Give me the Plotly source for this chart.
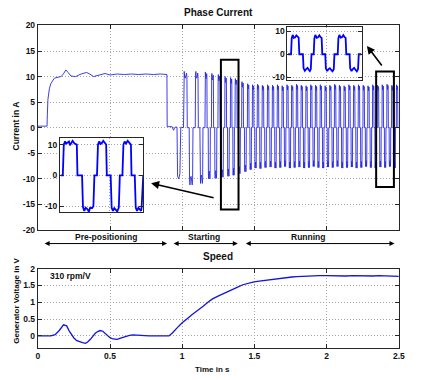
import plotly.graph_objects as go

# ---------------- data ----------------
# Phase current: pre-positioning phase and idle before start (time s, current A)
pre_t = [0, 0.064, 0.066, 0.07, 0.08, 0.09, 0.115, 0.14, 0.16, 0.175, 0.194, 0.21, 0.23, 0.262,
         0.3, 0.337, 0.36, 0.386, 0.42, 0.466, 0.5, 0.55, 0.6, 0.65, 0.7, 0.75, 0.8, 0.85, 0.894,
         0.896, 0.93, 0.94, 0.95, 0.964, 0.968, 0.976, 0.984, 0.988, 0.99]
pre_i = [0.3, 0.3, 2.5, 5.5, 7.6, 8.6, 9.7, 9.9, 10.0, 10.4, 11.3, 10.8, 10.1, 10.0,
         10.5, 10.8, 10.5, 10.0, 10.3, 10.6, 10.3, 10.5, 10.4, 10.5, 10.4, 10.5, 10.4, 10.5, 10.4,
         0.2, 0.2, -0.5, 0.1, 0.1, -9.5, -10.0, -9.0, 0.1, 0.1]

# Commutation cycles (starting + running): centre time of each positive pulse, peak values
pulse_t = [1.022, 1.101, 1.165, 1.210, 1.255, 1.301, 1.339, 1.373, 1.418, 1.457,
           1.491, 1.525, 1.559, 1.595, 1.629, 1.663, 1.696, 1.729, 1.762, 1.795,
           1.828, 1.861, 1.894, 1.927, 1.960, 1.993, 2.026, 2.059, 2.092, 2.125,
           2.158, 2.191, 2.224, 2.257, 2.290, 2.323, 2.356, 2.389, 2.422, 2.455,
           2.488]
pulse_hi = [11.0, 11.0, 10.9, 10.6, 10.4, 10.0, 9.8, 9.6, 9.0, 8.6,
            8.4, 8.5, 8.3, 8.4, 8.3, 8.4, 8.2, 8.4, 8.3, 8.5,
            8.3, 8.2, 8.4, 8.3, 8.4, 8.2, 8.3, 8.5, 8.3, 8.2,
            8.4, 8.3, 8.4, 8.3, 8.2, 8.4, 8.3, 8.4, 8.5, 8.3,
            8.4]
pulse_lo = [-11.2, -10.9, -10.0, -9.9, -9.7, -9.5, -9.3, -9.0, -8.6, -8.2,
            -7.9, -8.0, -7.8, -7.7, -7.9, -7.8, -7.6, -7.9, -7.8, -7.7,
            -7.9, -7.8, -7.6, -7.8, -7.9, -7.7, -7.8, -7.6, -7.9, -7.8,
            -7.7, -7.9, -7.8, -7.6, -7.8, -7.9, -7.7, -7.8, -7.6, -7.9,
            -7.8]

# Speed (generator voltage, V)
spd_t = [0, 0.05, 0.09, 0.12, 0.15, 0.178, 0.2, 0.216, 0.235, 0.25, 0.27, 0.296, 0.31, 0.33,
         0.345, 0.364, 0.38, 0.398, 0.415, 0.432, 0.45, 0.466, 0.485, 0.5, 0.52, 0.534, 0.55,
         0.568, 0.59, 0.614, 0.635, 0.659, 0.68, 0.704, 0.74, 0.772, 0.81, 0.84, 0.87, 0.908,
         0.93, 0.95, 0.976, 1.0, 1.022, 1.045, 1.067, 1.09, 1.112, 1.145, 1.18, 1.21, 1.248,
         1.28, 1.316, 1.35, 1.384, 1.42, 1.452, 1.49, 1.52, 1.555, 1.588, 1.62, 1.656, 1.69,
         1.724, 1.76, 1.793, 1.83, 1.86, 1.9, 1.95, 1.997, 2.04, 2.09, 2.133, 2.18, 2.23, 2.27,
         2.32, 2.36, 2.405, 2.45, 2.5]
spd_v = [0.0, 0.0, 0.0, 0.04, 0.17, 0.33, 0.3, 0.16, 0.04, -0.06, -0.14, -0.19, -0.2, -0.22,
         -0.18, -0.1, -0.01, 0.08, 0.13, 0.16, 0.14, 0.08, 0.0, -0.05, -0.09, -0.1, -0.1,
         -0.07, -0.04, -0.02, 0.02, 0.03, 0.03, 0.02, 0.01, 0.0, 0.0, 0.0, 0.0, 0.0,
         0.08, 0.18, 0.29, 0.39, 0.48, 0.55, 0.63, 0.7, 0.77, 0.88, 1.01, 1.1, 1.18,
         1.24, 1.30, 1.38, 1.45, 1.52, 1.56, 1.6, 1.62, 1.64, 1.66, 1.69, 1.71, 1.72,
         1.74, 1.75, 1.76, 1.77, 1.78, 1.78, 1.79, 1.79, 1.78, 1.79, 1.78, 1.79, 1.78, 1.79,
         1.78, 1.79, 1.79, 1.78, 1.77]

# Inset (running window), normalised time 0..1, current A
ins_run_u = [0.009, 0.048, 0.057, 0.070, 0.084, 0.101, 0.119, 0.137, 0.150, 0.159, 0.207, 0.216,
             0.233, 0.251, 0.269, 0.286, 0.300, 0.313, 0.322, 0.352, 0.361, 0.374, 0.392, 0.410,
             0.427, 0.445, 0.458, 0.467, 0.507, 0.515, 0.533, 0.551, 0.568, 0.586, 0.604, 0.621,
             0.630, 0.674, 0.683, 0.696, 0.714, 0.731, 0.749, 0.767, 0.780, 0.789, 0.833, 0.841,
             0.859, 0.877, 0.894, 0.912, 0.930, 0.947, 0.956, 0.991]
ins_run_i = [0, 0, 7.0, 8.5, 7.2, 7.4, 8.3, 7.6, 7.3, 0, 0, -6.2,
             -7.3, -6.5, -6.0, -6.8, -7.4, -6.5, 0, 0, 7.0, 8.5, 7.2, 7.5,
             8.3, 7.5, 7.2, 0, 0, -6.2, -7.4, -6.5, -6.1, -6.9, -7.5, -6.6,
             0, 0, 7.0, 8.5, 7.3, 7.5, 8.4, 7.5, 7.2, 0, 0, -6.2,
             -7.4, -6.5, -6.0, -6.8, -7.5, -6.5, 0, 0]

# Inset (starting window), normalised time 0..1, current A
ins_start_u = [0.012, 0.035, 0.047, 0.063, 0.074, 0.090, 0.109, 0.121, 0.137, 0.152, 0.176, 0.203,
               0.211, 0.266, 0.277, 0.293, 0.309, 0.332, 0.348, 0.363, 0.387, 0.402, 0.414, 0.445,
               0.457, 0.473, 0.488, 0.504, 0.520, 0.539, 0.555, 0.563, 0.609, 0.621, 0.637, 0.652,
               0.672, 0.688, 0.707, 0.719, 0.750, 0.762, 0.777, 0.793, 0.813, 0.832, 0.852, 0.859,
               0.898, 0.910, 0.926, 0.941, 0.957, 0.973, 0.980, 0.992, 1.0]
ins_start_i = [0, 0, 10.0, 11.0, 10.3, 10.5, 11.0, 9.8, 10.5, 11.2, 10.3, 10.0,
               0, 0, -10.3, -11.5, -10.5, -11.0, -11.8, -10.5, -10.6, -10.0, 0, 0,
               10.0, 11.0, 10.2, 10.5, 11.2, 10.4, 10.0, 0, 0, -10.5, -11.5, -10.6,
               -11.2, -11.7, -10.4, 0, 0, 10.0, 11.0, 10.3, 11.2, 10.5, 10.0, 0,
               0, -10.5, -11.5, -10.5, -11.2, -11.5, -10.5, 0, 0]

cur_ticks = [-20, -15, -10, -5, 0, 5, 10, 15, 20]
spd_ticks = [0, 0.5, 1, 1.5, 2]
time_ticks = [0, 0.5, 1, 1.5, 2, 2.5]
inset_ticks = [-10, 0, 10]

phases = ["Pre-positioning", "Starting", "Running"]
phase_start = [0.037, 0.93, 1.43]
phase_end = [0.895, 1.385, 2.47]
phase_mid = [0.47, 1.15, 1.87]

# ---------------- build current waveform ----------------
cur_t = list(pre_t)
cur_i = list(pre_i)
for k, (tc, hi, lo) in enumerate(zip(pulse_t, pulse_hi, pulse_lo)):
    P = (pulse_t[k + 1] - tc) if k + 1 < len(pulse_t) else (tc - pulse_t[k - 1])
    e = P / 30.0
    a = tc - P / 6
    b = tc + P / 6
    c = tc + P / 3
    d = tc + 2 * P / 3
    seg = [(a, 0), (a + e, hi * 0.93), (a + 2 * e, hi), (a + 3 * e, hi * 0.9), (tc, hi * 0.88),
           (b - 2 * e, hi * 0.97), (b - e, hi * 0.9), (b, 0), (c, 0),
           (c + e, lo * 0.9), (c + 2 * e, lo), (c + 3 * e, lo * 0.88), (tc + P / 2, lo * 0.85),
           (d - 2 * e, lo), (d - e, lo * 0.9), (d, 0)]
    for tt, ii in seg:
        if tt <= 2.5:
            cur_t.append(tt)
            cur_i.append(ii)

# ---------------- figure ----------------
W, H = 421, 380
def px(x): return x / W
def py(y): return 1 - y / H

FONT = "Liberation Sans"
AX = "#262626"
tickfont = dict(family=FONT, size=8.5, color="#111111", weight="bold")

base_axis = dict(showline=True, linecolor=AX, linewidth=1, mirror="ticks", ticks="inside",
                 ticklen=4, tickcolor=AX, tickwidth=1, showgrid=True, gridcolor="#a6a6a6",
                 griddash="1px,2px", gridwidth=1, zeroline=False, tickfont=tickfont)

fig = go.Figure()
fig.add_trace(go.Scatter(x=cur_t, y=cur_i, xaxis="x", yaxis="y", mode="lines",
                         line=dict(color="rgb(40,40,225)", width=0.9), hoverinfo="skip"))
fig.add_trace(go.Scatter(x=spd_t, y=spd_v, xaxis="x2", yaxis="y2", mode="lines",
                         line=dict(color="rgb(20,20,220)", width=1.3), hoverinfo="skip"))
fig.add_trace(go.Scatter(x=ins_run_u, y=ins_run_i, xaxis="x3", yaxis="y3", mode="lines",
                         line=dict(color="#0000ff", width=1.8), hoverinfo="skip"))
fig.add_trace(go.Scatter(x=ins_start_u, y=ins_start_i, xaxis="x4", yaxis="y4", mode="lines",
                         line=dict(color="#0000ff", width=1.8), hoverinfo="skip"))

xdom = [px(36.5), px(404.5)]
layout = dict(
    width=W, height=H, margin=dict(l=0, r=0, t=0, b=0),
    paper_bgcolor="white", plot_bgcolor="white", showlegend=False,
    xaxis=dict(base_axis, domain=xdom, range=[0, 2.5], tickvals=time_ticks,
               showticklabels=False, anchor="y"),
    yaxis=dict(base_axis, domain=[py(231), py(21)], range=[-20, 20], tickvals=cur_ticks,
               ticktext=[str(v) for v in cur_ticks], anchor="x"),
    xaxis2=dict(base_axis, domain=xdom, range=[0, 2.5], tickvals=time_ticks,
                ticktext=[str(v) for v in time_ticks], anchor="y2"),
    yaxis2=dict(base_axis, domain=[py(352), py(270.7)], range=[-0.35, 2], tickvals=spd_ticks,
                ticktext=[str(v) for v in spd_ticks], anchor="x2"),
    xaxis3=dict(base_axis, domain=[px(291), px(367)], range=[0, 1], tickvals=[0.53],
                showticklabels=False, ticks="", anchor="y3"),
    yaxis3=dict(base_axis, domain=[py(77), py(23)], range=[-11.3, 11.8], tickvals=inset_ticks,
                ticktext=[str(v) for v in inset_ticks], anchor="x3"),
    xaxis4=dict(base_axis, domain=[px(59), px(144)], range=[0, 1], tickvals=[0.6],
                showticklabels=False, ticks="", anchor="y4"),
    yaxis4=dict(base_axis, domain=[py(213), py(137)], range=[-12, 12], tickvals=inset_ticks,
                ticktext=[str(v) for v in inset_ticks], anchor="x4"),
)
fig.update_layout(**layout)

shapes = [
    # white backgrounds of the insets
    dict(type="rect", xref="x3 domain", yref="y3 domain", x0=0, x1=1, y0=0, y1=1,
         fillcolor="white", line=dict(width=0), layer="below"),
    dict(type="rect", xref="x4 domain", yref="y4 domain", x0=0, x1=1, y0=0, y1=1,
         fillcolor="white", line=dict(width=0), layer="below"),
    # zoom windows
    dict(type="rect", xref="x", yref="y", x0=1.268, x1=1.390, y0=-16.0, y1=13.3,
         line=dict(color="black", width=2), layer="above"),
    dict(type="rect", xref="x", yref="y", x0=2.343, x1=2.466, y0=-11.6, y1=11.0,
         line=dict(color="black", width=2), layer="above"),
]
fig.update_layout(shapes=shapes)

txt = dict(family=FONT, color="#111111", weight="bold")
ann = [
    dict(text="Phase Current", x=px(220.5), y=py(8), xref="paper", yref="paper",
         showarrow=False, font=dict(txt, size=10), xanchor="center", yanchor="middle"),
    dict(text="Speed", x=px(220.5), y=py(258), xref="paper", yref="paper",
         showarrow=False, font=dict(txt, size=10), xanchor="center", yanchor="middle"),
    dict(text="Time in s", x=px(215), y=py(374), xref="paper", yref="paper",
         showarrow=False, font=dict(txt, size=8), xanchor="center", yanchor="middle"),
    dict(text="Current in A", x=px(14), y=py(124), xref="paper", yref="paper", textangle=-90,
         showarrow=False, font=dict(txt, size=8.5), xanchor="center", yanchor="middle"),
    dict(text="Generator Voltage in V", x=px(14), y=py(304), xref="paper", yref="paper",
         textangle=-90, showarrow=False, font=dict(txt, size=8),
         xanchor="center", yanchor="middle"),
    dict(text="310 rpm/V", x=px(47), y=py(278), xref="paper", yref="paper",
         showarrow=False, font=dict(txt, size=8.5), xanchor="left", yanchor="middle"),
    # arrows pointing to the insets
    dict(text="", x=px(372), y=py(42), xref="paper", yref="paper", ax=16, ay=21,
         showarrow=True, arrowhead=2, arrowsize=1, arrowwidth=1.6, arrowcolor="black"),
    dict(text="", x=px(152), y=py(183), xref="paper", yref="paper", ax=64, ay=15,
         showarrow=True, arrowhead=2, arrowsize=1, arrowwidth=1.6, arrowcolor="black"),
]
for name, s, e, m in zip(phases, phase_start, phase_end, phase_mid):
    ann.append(dict(text=name, x=m, y=py(238), xref="x", yref="paper", showarrow=False,
                    font=dict(txt, size=8.5), xanchor="center", yanchor="middle"))
    ann.append(dict(text="", x=e, y=py(245), xref="x", yref="paper", ax=s, ay=0,
                    axref="x", ayref="pixel", showarrow=True, arrowhead=2, arrowside="end+start",
                    arrowsize=1, arrowwidth=1, arrowcolor="black"))
fig.update_layout(annotations=ann)

fig.write_html("out.html", config={"displayModeBar": False},
               post_script="document.body.style.margin='0px';")
